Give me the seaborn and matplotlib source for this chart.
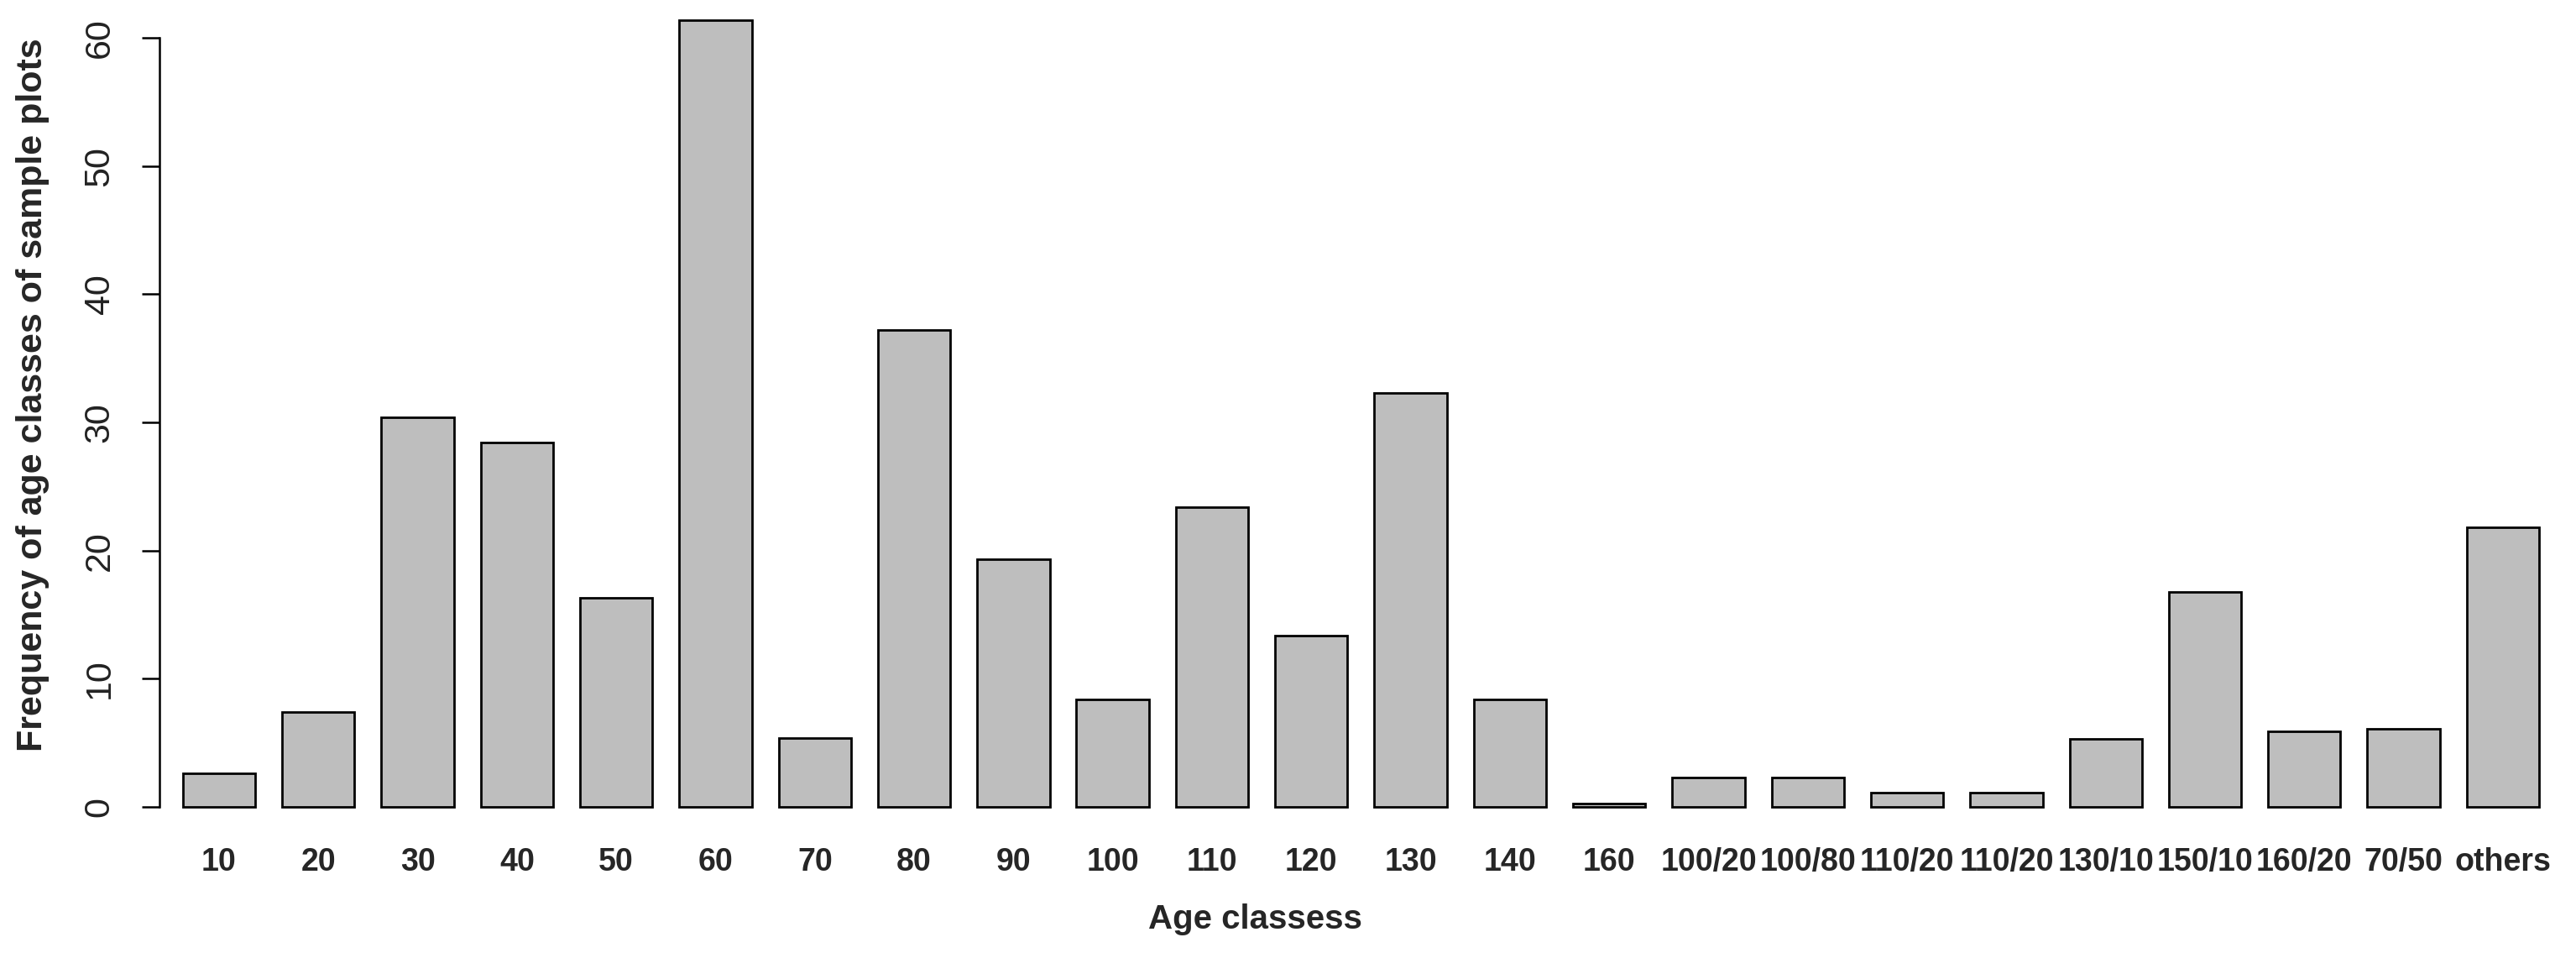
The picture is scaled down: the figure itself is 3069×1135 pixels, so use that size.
import numpy as np
import pandas as pd
import seaborn as sns
import matplotlib.pyplot as plt

# age classes and plot counts
age_classes = ["10", "20", "30", "40", "50", "60", "70", "80", "90", "100",
               "110", "120", "130", "140", "160", "100/20", "100/80", "110/20",
               "110/20", "130/10", "150/10", "160/20", "70/50", "others"]
frequency = [2.6, 7.4, 30.4, 28.4, 16.3, 61.4, 5.4, 37.2, 19.3, 8.4,
             23.4, 13.4, 32.3, 8.4, 0.3, 2.3, 2.3, 1.1,
             1.1, 5.3, 16.8, 5.9, 6.1, 21.8]
y_ticks = [0, 10, 20, 30, 40, 50, 60]

df = pd.DataFrame({"pos": np.arange(len(age_classes)), "freq": frequency})

sns.set_style("white")
plt.rcParams["font.family"] = ["Liberation Sans", "DejaVu Sans"]

fig = plt.figure(figsize=(30.69, 11.35), dpi=100)
ax = fig.add_axes([0.0619, 0.133, 0.929, 0.861])

sns.barplot(data=df, x="pos", y="freq", color="#bebebe", saturation=1,
            edgecolor="black", linewidth=2, width=0.73, ax=ax)

ax.set_xlim(-0.6, 23.5)
ax.set_ylim(-1.5, 62.5)

# R style axis: only the left one, limited to the tick range
for side in ["top", "right", "bottom"]:
    ax.spines[side].set_visible(False)
ax.spines["left"].set_bounds(0, 60)
ax.spines["left"].set_linewidth(1.8)
ax.spines["left"].set_color("black")

ax.set_yticks(y_ticks)
ax.set_yticklabels([str(t) for t in y_ticks], rotation=90, va="center",
                   fontsize=31, color="#222222")
ax.tick_params(axis="y", length=15, width=1.8, pad=22, left=True, color="black")

ax.set_xticks(range(len(age_classes)))
ax.set_xticklabels(age_classes, fontsize=27, fontweight="bold")
ax.tick_params(axis="x", length=0, pad=18)

ax.set_xlabel("Age classess", fontsize=29, fontweight="bold")
ax.set_ylabel("Frequency of age classes of sample plots", fontsize=31, fontweight="bold")
ax.xaxis.set_label_coords(0.458, -0.094)
ax.yaxis.set_label_coords(-0.046, 0.526)

fig.savefig("out.png", dpi=100)
